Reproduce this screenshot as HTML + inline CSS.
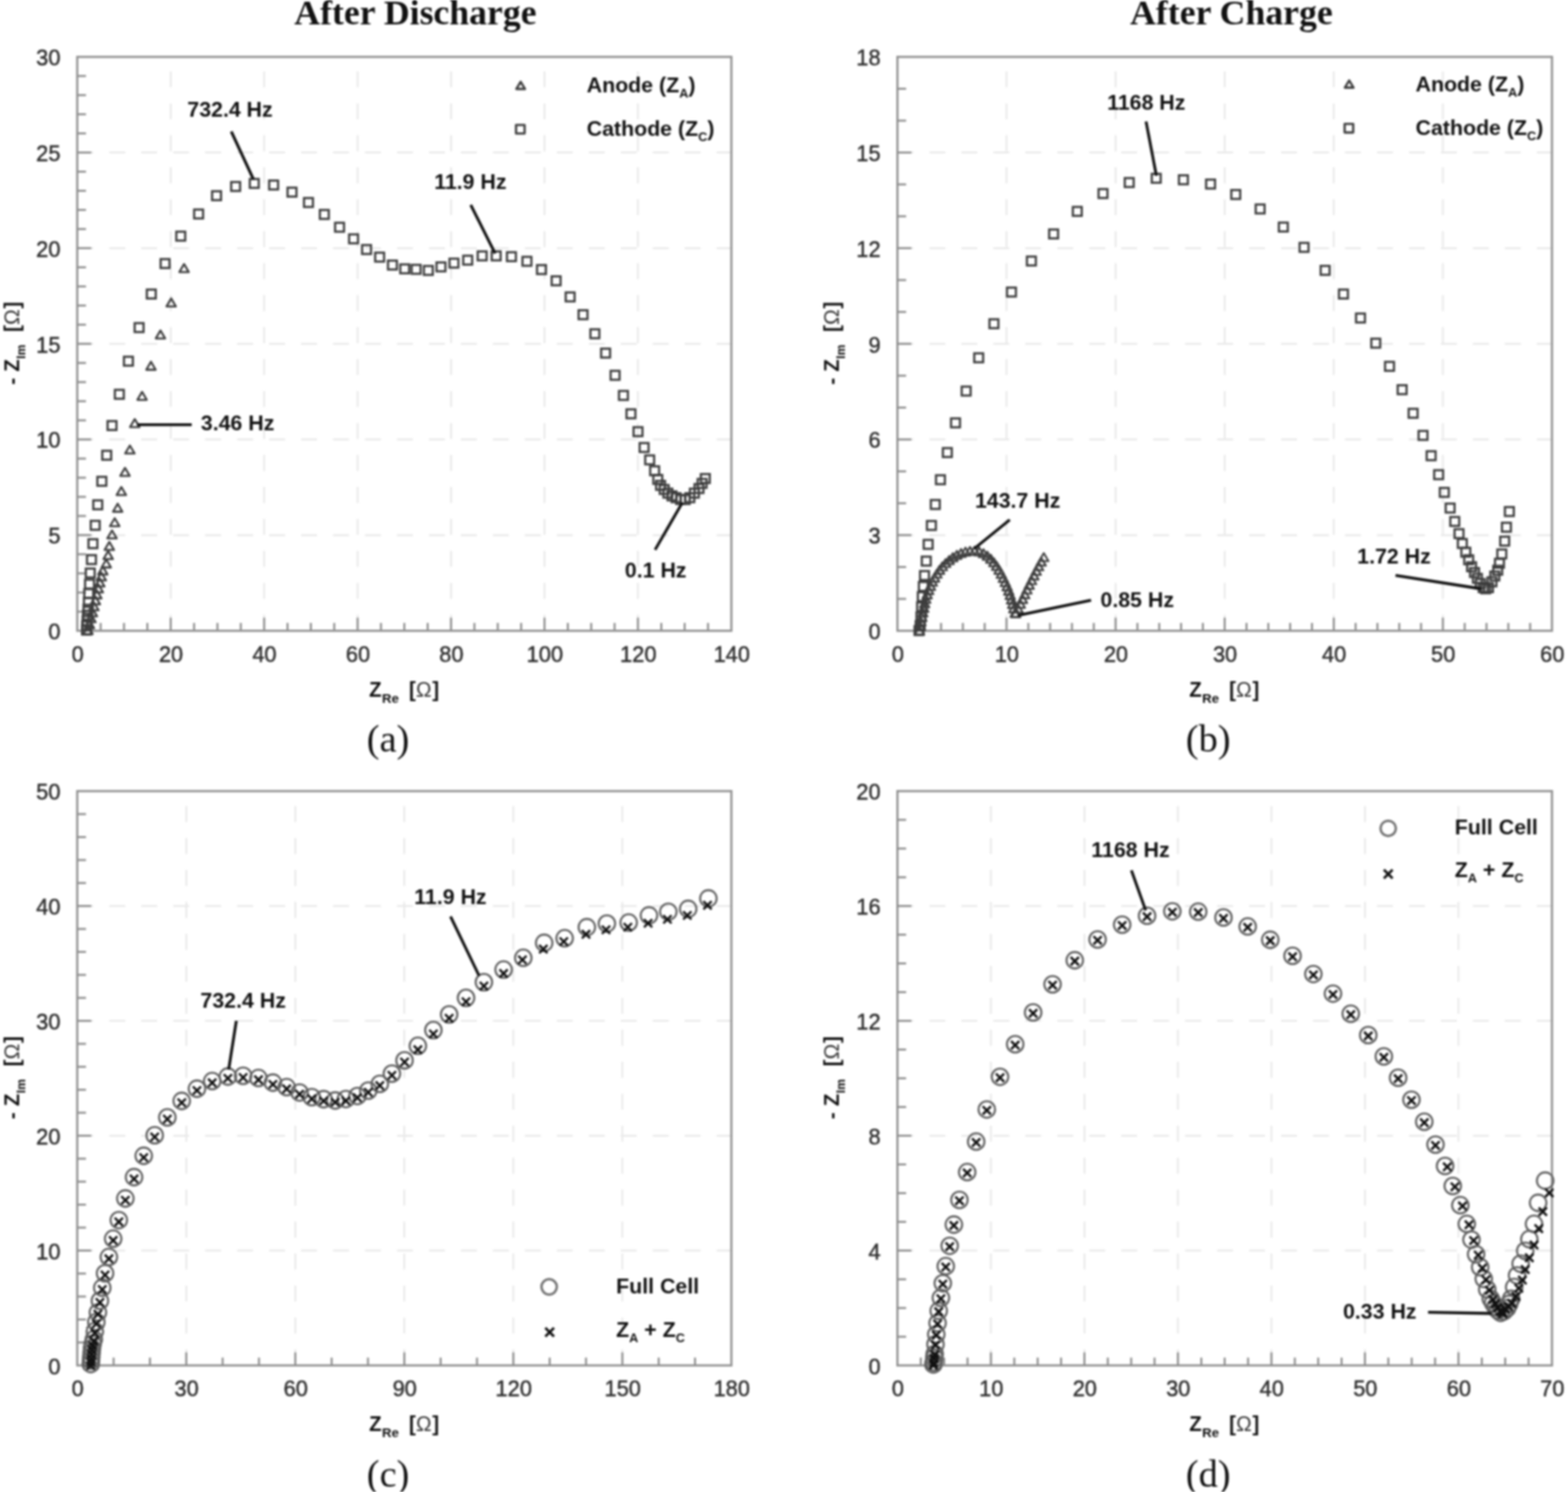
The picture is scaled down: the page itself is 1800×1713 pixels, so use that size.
<!DOCTYPE html>
<html><head><meta charset="utf-8"><title>EIS Nyquist plots</title>
<style>html,body{margin:0;padding:0;background:#fff;}body{width:1800px;height:1713px;overflow:hidden;}svg{display:block;}#w{filter:blur(0.8px);}</style>
</head><body><div id="w">
<svg width="1800" height="1713" viewBox="0 0 1800 1713">
<rect width="1800" height="1713" fill="#fff"/>
<text x="476.9" y="28.4" text-anchor="middle" font-family="'Liberation Serif', 'Times New Roman', serif" font-size="41" font-weight="bold" fill="#111">After Discharge</text>
<text x="1413.6" y="28.4" text-anchor="middle" font-family="'Liberation Serif', 'Times New Roman', serif" font-size="41" font-weight="bold" fill="#111">After Charge</text>
<g stroke="#e8e8e8" stroke-width="2" stroke-dasharray="18.35 18.35"><line x1="195.97" y1="724.2" x2="195.97" y2="65.3"/><line x1="303.24" y1="724.2" x2="303.24" y2="65.3"/><line x1="410.51" y1="724.2" x2="410.51" y2="65.3"/><line x1="517.79" y1="724.2" x2="517.79" y2="65.3"/><line x1="625.06" y1="724.2" x2="625.06" y2="65.3"/><line x1="732.33" y1="724.2" x2="732.33" y2="65.3"/><line x1="88.7" y1="614.38" x2="839.6" y2="614.38"/><line x1="88.7" y1="504.57" x2="839.6" y2="504.57"/><line x1="88.7" y1="394.75" x2="839.6" y2="394.75"/><line x1="88.7" y1="284.93" x2="839.6" y2="284.93"/><line x1="88.7" y1="175.12" x2="839.6" y2="175.12"/></g>
<g stroke="#8a8a8a" stroke-width="2.2"><line x1="115.52" y1="724.2" x2="115.52" y2="715.2"/><line x1="142.34" y1="724.2" x2="142.34" y2="715.2"/><line x1="169.15" y1="724.2" x2="169.15" y2="715.2"/><line x1="195.97" y1="724.2" x2="195.97" y2="709.2"/><line x1="222.79" y1="724.2" x2="222.79" y2="715.2"/><line x1="249.61" y1="724.2" x2="249.61" y2="715.2"/><line x1="276.43" y1="724.2" x2="276.43" y2="715.2"/><line x1="303.24" y1="724.2" x2="303.24" y2="709.2"/><line x1="330.06" y1="724.2" x2="330.06" y2="715.2"/><line x1="356.88" y1="724.2" x2="356.88" y2="715.2"/><line x1="383.7" y1="724.2" x2="383.7" y2="715.2"/><line x1="410.51" y1="724.2" x2="410.51" y2="709.2"/><line x1="437.33" y1="724.2" x2="437.33" y2="715.2"/><line x1="464.15" y1="724.2" x2="464.15" y2="715.2"/><line x1="490.97" y1="724.2" x2="490.97" y2="715.2"/><line x1="517.79" y1="724.2" x2="517.79" y2="709.2"/><line x1="544.6" y1="724.2" x2="544.6" y2="715.2"/><line x1="571.42" y1="724.2" x2="571.42" y2="715.2"/><line x1="598.24" y1="724.2" x2="598.24" y2="715.2"/><line x1="625.06" y1="724.2" x2="625.06" y2="709.2"/><line x1="651.88" y1="724.2" x2="651.88" y2="715.2"/><line x1="678.69" y1="724.2" x2="678.69" y2="715.2"/><line x1="705.51" y1="724.2" x2="705.51" y2="715.2"/><line x1="732.33" y1="724.2" x2="732.33" y2="709.2"/><line x1="759.15" y1="724.2" x2="759.15" y2="715.2"/><line x1="785.96" y1="724.2" x2="785.96" y2="715.2"/><line x1="812.78" y1="724.2" x2="812.78" y2="715.2"/><line x1="88.7" y1="702.24" x2="98.7" y2="702.24"/><line x1="88.7" y1="680.27" x2="98.7" y2="680.27"/><line x1="88.7" y1="658.31" x2="98.7" y2="658.31"/><line x1="88.7" y1="636.35" x2="98.7" y2="636.35"/><line x1="88.7" y1="614.38" x2="104.7" y2="614.38"/><line x1="88.7" y1="592.42" x2="98.7" y2="592.42"/><line x1="88.7" y1="570.46" x2="98.7" y2="570.46"/><line x1="88.7" y1="548.49" x2="98.7" y2="548.49"/><line x1="88.7" y1="526.53" x2="98.7" y2="526.53"/><line x1="88.7" y1="504.57" x2="104.7" y2="504.57"/><line x1="88.7" y1="482.6" x2="98.7" y2="482.6"/><line x1="88.7" y1="460.64" x2="98.7" y2="460.64"/><line x1="88.7" y1="438.68" x2="98.7" y2="438.68"/><line x1="88.7" y1="416.71" x2="98.7" y2="416.71"/><line x1="88.7" y1="394.75" x2="104.7" y2="394.75"/><line x1="88.7" y1="372.79" x2="98.7" y2="372.79"/><line x1="88.7" y1="350.82" x2="98.7" y2="350.82"/><line x1="88.7" y1="328.86" x2="98.7" y2="328.86"/><line x1="88.7" y1="306.9" x2="98.7" y2="306.9"/><line x1="88.7" y1="284.93" x2="104.7" y2="284.93"/><line x1="88.7" y1="262.97" x2="98.7" y2="262.97"/><line x1="88.7" y1="241.01" x2="98.7" y2="241.01"/><line x1="88.7" y1="219.04" x2="98.7" y2="219.04"/><line x1="88.7" y1="197.08" x2="98.7" y2="197.08"/><line x1="88.7" y1="175.12" x2="104.7" y2="175.12"/><line x1="88.7" y1="153.15" x2="98.7" y2="153.15"/><line x1="88.7" y1="131.19" x2="98.7" y2="131.19"/><line x1="88.7" y1="109.23" x2="98.7" y2="109.23"/><line x1="88.7" y1="87.26" x2="98.7" y2="87.26"/></g>
<rect x="88.7" y="65.3" width="750.9" height="658.9000000000001" fill="none" stroke="#8e8e8e" stroke-width="2.4"/>
<g font-family="'Liberation Sans', Arial, sans-serif" font-size="25" fill="#2e2e2e" stroke="#2e2e2e" stroke-width="0.5"><text x="89.1" y="759.8" text-anchor="middle">0</text><text x="196.37" y="759.8" text-anchor="middle">20</text><text x="303.64" y="759.8" text-anchor="middle">40</text><text x="410.91" y="759.8" text-anchor="middle">60</text><text x="518.19" y="759.8" text-anchor="middle">80</text><text x="625.46" y="759.8" text-anchor="middle">100</text><text x="732.73" y="759.8" text-anchor="middle">120</text><text x="840" y="759.8" text-anchor="middle">140</text><text x="69.4" y="734.1" text-anchor="end">0</text><text x="69.4" y="624.28" text-anchor="end">5</text><text x="69.4" y="514.47" text-anchor="end">10</text><text x="69.4" y="404.65" text-anchor="end">15</text><text x="69.4" y="294.83" text-anchor="end">20</text><text x="69.4" y="185.02" text-anchor="end">25</text><text x="69.4" y="75.2" text-anchor="end">30</text></g>
<g transform="translate(424,799.7)" font-family="'Liberation Sans', Arial, sans-serif" fill="#111"><text x="-0.3" y="0" font-size="23.5" font-weight="bold" textLength="14.3" lengthAdjust="spacingAndGlyphs">Z</text><text x="14.6" y="7" font-size="15" font-weight="bold" textLength="19.4" lengthAdjust="spacingAndGlyphs">Re</text><text x="45.6" y="0" font-size="23.5" font-weight="bold">[</text><text x="53.6" y="0" font-size="24" font-weight="normal" fill="#333">&#937;</text><text x="72.2" y="0" font-size="23.5" font-weight="bold">]</text></g>
<g transform="translate(21.8,426.55) rotate(-90)" font-family="'Liberation Sans', Arial, sans-serif" fill="#111"><text x="-15.3" y="0" font-size="24" font-weight="bold">-</text><text x="-0.3" y="0" font-size="23.5" font-weight="bold" textLength="14.3" lengthAdjust="spacingAndGlyphs">Z</text><text x="14.6" y="7" font-size="15" font-weight="bold" textLength="16.2" lengthAdjust="spacingAndGlyphs">Im</text><text x="45.6" y="0" font-size="23.5" font-weight="bold">[</text><text x="53.6" y="0" font-size="24" font-weight="normal" fill="#333">&#937;</text><text x="72.2" y="0" font-size="23.5" font-weight="bold">]</text></g>
<text x="445.5" y="863" text-anchor="middle" font-family="'Liberation Serif', 'Times New Roman', serif" font-size="44" fill="#111">(a)</text>
<g stroke="#e8e8e8" stroke-width="2" stroke-dasharray="18.35 18.35"><line x1="1155.43" y1="724.2" x2="1155.43" y2="65.3"/><line x1="1280.67" y1="724.2" x2="1280.67" y2="65.3"/><line x1="1405.9" y1="724.2" x2="1405.9" y2="65.3"/><line x1="1531.13" y1="724.2" x2="1531.13" y2="65.3"/><line x1="1656.37" y1="724.2" x2="1656.37" y2="65.3"/><line x1="1030.2" y1="614.38" x2="1781.6" y2="614.38"/><line x1="1030.2" y1="504.57" x2="1781.6" y2="504.57"/><line x1="1030.2" y1="394.75" x2="1781.6" y2="394.75"/><line x1="1030.2" y1="284.93" x2="1781.6" y2="284.93"/><line x1="1030.2" y1="175.12" x2="1781.6" y2="175.12"/></g>
<g stroke="#8a8a8a" stroke-width="2.2"><line x1="1055.25" y1="724.2" x2="1055.25" y2="715.2"/><line x1="1080.29" y1="724.2" x2="1080.29" y2="715.2"/><line x1="1105.34" y1="724.2" x2="1105.34" y2="715.2"/><line x1="1130.39" y1="724.2" x2="1130.39" y2="715.2"/><line x1="1155.43" y1="724.2" x2="1155.43" y2="709.2"/><line x1="1180.48" y1="724.2" x2="1180.48" y2="715.2"/><line x1="1205.53" y1="724.2" x2="1205.53" y2="715.2"/><line x1="1230.57" y1="724.2" x2="1230.57" y2="715.2"/><line x1="1255.62" y1="724.2" x2="1255.62" y2="715.2"/><line x1="1280.67" y1="724.2" x2="1280.67" y2="709.2"/><line x1="1305.71" y1="724.2" x2="1305.71" y2="715.2"/><line x1="1330.76" y1="724.2" x2="1330.76" y2="715.2"/><line x1="1355.81" y1="724.2" x2="1355.81" y2="715.2"/><line x1="1380.85" y1="724.2" x2="1380.85" y2="715.2"/><line x1="1405.9" y1="724.2" x2="1405.9" y2="709.2"/><line x1="1430.95" y1="724.2" x2="1430.95" y2="715.2"/><line x1="1455.99" y1="724.2" x2="1455.99" y2="715.2"/><line x1="1481.04" y1="724.2" x2="1481.04" y2="715.2"/><line x1="1506.09" y1="724.2" x2="1506.09" y2="715.2"/><line x1="1531.13" y1="724.2" x2="1531.13" y2="709.2"/><line x1="1556.18" y1="724.2" x2="1556.18" y2="715.2"/><line x1="1581.23" y1="724.2" x2="1581.23" y2="715.2"/><line x1="1606.27" y1="724.2" x2="1606.27" y2="715.2"/><line x1="1631.32" y1="724.2" x2="1631.32" y2="715.2"/><line x1="1656.37" y1="724.2" x2="1656.37" y2="709.2"/><line x1="1681.41" y1="724.2" x2="1681.41" y2="715.2"/><line x1="1706.46" y1="724.2" x2="1706.46" y2="715.2"/><line x1="1731.51" y1="724.2" x2="1731.51" y2="715.2"/><line x1="1756.55" y1="724.2" x2="1756.55" y2="715.2"/><line x1="1030.2" y1="687.59" x2="1040.2" y2="687.59"/><line x1="1030.2" y1="650.99" x2="1040.2" y2="650.99"/><line x1="1030.2" y1="614.38" x2="1046.2" y2="614.38"/><line x1="1030.2" y1="577.78" x2="1040.2" y2="577.78"/><line x1="1030.2" y1="541.17" x2="1040.2" y2="541.17"/><line x1="1030.2" y1="504.57" x2="1046.2" y2="504.57"/><line x1="1030.2" y1="467.96" x2="1040.2" y2="467.96"/><line x1="1030.2" y1="431.36" x2="1040.2" y2="431.36"/><line x1="1030.2" y1="394.75" x2="1046.2" y2="394.75"/><line x1="1030.2" y1="358.14" x2="1040.2" y2="358.14"/><line x1="1030.2" y1="321.54" x2="1040.2" y2="321.54"/><line x1="1030.2" y1="284.93" x2="1046.2" y2="284.93"/><line x1="1030.2" y1="248.33" x2="1040.2" y2="248.33"/><line x1="1030.2" y1="211.72" x2="1040.2" y2="211.72"/><line x1="1030.2" y1="175.12" x2="1046.2" y2="175.12"/><line x1="1030.2" y1="138.51" x2="1040.2" y2="138.51"/><line x1="1030.2" y1="101.91" x2="1040.2" y2="101.91"/></g>
<rect x="1030.2" y="65.3" width="751.3999999999999" height="658.9000000000001" fill="none" stroke="#8e8e8e" stroke-width="2.4"/>
<g font-family="'Liberation Sans', Arial, sans-serif" font-size="25" fill="#2e2e2e" stroke="#2e2e2e" stroke-width="0.5"><text x="1030.6" y="759.8" text-anchor="middle">0</text><text x="1155.83" y="759.8" text-anchor="middle">10</text><text x="1281.07" y="759.8" text-anchor="middle">20</text><text x="1406.3" y="759.8" text-anchor="middle">30</text><text x="1531.53" y="759.8" text-anchor="middle">40</text><text x="1656.77" y="759.8" text-anchor="middle">50</text><text x="1782" y="759.8" text-anchor="middle">60</text><text x="1010.9" y="734.1" text-anchor="end">0</text><text x="1010.9" y="624.28" text-anchor="end">3</text><text x="1010.9" y="514.47" text-anchor="end">6</text><text x="1010.9" y="404.65" text-anchor="end">9</text><text x="1010.9" y="294.83" text-anchor="end">12</text><text x="1010.9" y="185.02" text-anchor="end">15</text><text x="1010.9" y="75.2" text-anchor="end">18</text></g>
<g transform="translate(1365.5,799.7)" font-family="'Liberation Sans', Arial, sans-serif" fill="#111"><text x="-0.3" y="0" font-size="23.5" font-weight="bold" textLength="14.3" lengthAdjust="spacingAndGlyphs">Z</text><text x="14.6" y="7" font-size="15" font-weight="bold" textLength="19.4" lengthAdjust="spacingAndGlyphs">Re</text><text x="45.6" y="0" font-size="23.5" font-weight="bold">[</text><text x="53.6" y="0" font-size="24" font-weight="normal" fill="#333">&#937;</text><text x="72.2" y="0" font-size="23.5" font-weight="bold">]</text></g>
<g transform="translate(963.3,426.55) rotate(-90)" font-family="'Liberation Sans', Arial, sans-serif" fill="#111"><text x="-15.3" y="0" font-size="24" font-weight="bold">-</text><text x="-0.3" y="0" font-size="23.5" font-weight="bold" textLength="14.3" lengthAdjust="spacingAndGlyphs">Z</text><text x="14.6" y="7" font-size="15" font-weight="bold" textLength="16.2" lengthAdjust="spacingAndGlyphs">Im</text><text x="45.6" y="0" font-size="23.5" font-weight="bold">[</text><text x="53.6" y="0" font-size="24" font-weight="normal" fill="#333">&#937;</text><text x="72.2" y="0" font-size="23.5" font-weight="bold">]</text></g>
<text x="1387" y="863" text-anchor="middle" font-family="'Liberation Serif', 'Times New Roman', serif" font-size="44" fill="#111">(b)</text>
<g stroke="#e8e8e8" stroke-width="2" stroke-dasharray="18.35 18.35"><line x1="213.85" y1="1567.7" x2="213.85" y2="908.3"/><line x1="339" y1="1567.7" x2="339" y2="908.3"/><line x1="464.15" y1="1567.7" x2="464.15" y2="908.3"/><line x1="589.3" y1="1567.7" x2="589.3" y2="908.3"/><line x1="714.45" y1="1567.7" x2="714.45" y2="908.3"/><line x1="88.7" y1="1435.82" x2="839.6" y2="1435.82"/><line x1="88.7" y1="1303.94" x2="839.6" y2="1303.94"/><line x1="88.7" y1="1172.06" x2="839.6" y2="1172.06"/><line x1="88.7" y1="1040.18" x2="839.6" y2="1040.18"/></g>
<g stroke="#8a8a8a" stroke-width="2.2"><line x1="130.42" y1="1567.7" x2="130.42" y2="1558.7"/><line x1="172.13" y1="1567.7" x2="172.13" y2="1558.7"/><line x1="213.85" y1="1567.7" x2="213.85" y2="1552.7"/><line x1="255.57" y1="1567.7" x2="255.57" y2="1558.7"/><line x1="297.28" y1="1567.7" x2="297.28" y2="1558.7"/><line x1="339" y1="1567.7" x2="339" y2="1552.7"/><line x1="380.72" y1="1567.7" x2="380.72" y2="1558.7"/><line x1="422.43" y1="1567.7" x2="422.43" y2="1558.7"/><line x1="464.15" y1="1567.7" x2="464.15" y2="1552.7"/><line x1="505.87" y1="1567.7" x2="505.87" y2="1558.7"/><line x1="547.58" y1="1567.7" x2="547.58" y2="1558.7"/><line x1="589.3" y1="1567.7" x2="589.3" y2="1552.7"/><line x1="631.02" y1="1567.7" x2="631.02" y2="1558.7"/><line x1="672.73" y1="1567.7" x2="672.73" y2="1558.7"/><line x1="714.45" y1="1567.7" x2="714.45" y2="1552.7"/><line x1="756.17" y1="1567.7" x2="756.17" y2="1558.7"/><line x1="797.88" y1="1567.7" x2="797.88" y2="1558.7"/><line x1="88.7" y1="1541.32" x2="98.7" y2="1541.32"/><line x1="88.7" y1="1514.95" x2="98.7" y2="1514.95"/><line x1="88.7" y1="1488.57" x2="98.7" y2="1488.57"/><line x1="88.7" y1="1462.2" x2="98.7" y2="1462.2"/><line x1="88.7" y1="1435.82" x2="104.7" y2="1435.82"/><line x1="88.7" y1="1409.44" x2="98.7" y2="1409.44"/><line x1="88.7" y1="1383.07" x2="98.7" y2="1383.07"/><line x1="88.7" y1="1356.69" x2="98.7" y2="1356.69"/><line x1="88.7" y1="1330.32" x2="98.7" y2="1330.32"/><line x1="88.7" y1="1303.94" x2="104.7" y2="1303.94"/><line x1="88.7" y1="1277.56" x2="98.7" y2="1277.56"/><line x1="88.7" y1="1251.19" x2="98.7" y2="1251.19"/><line x1="88.7" y1="1224.81" x2="98.7" y2="1224.81"/><line x1="88.7" y1="1198.44" x2="98.7" y2="1198.44"/><line x1="88.7" y1="1172.06" x2="104.7" y2="1172.06"/><line x1="88.7" y1="1145.68" x2="98.7" y2="1145.68"/><line x1="88.7" y1="1119.31" x2="98.7" y2="1119.31"/><line x1="88.7" y1="1092.93" x2="98.7" y2="1092.93"/><line x1="88.7" y1="1066.56" x2="98.7" y2="1066.56"/><line x1="88.7" y1="1040.18" x2="104.7" y2="1040.18"/><line x1="88.7" y1="1013.8" x2="98.7" y2="1013.8"/><line x1="88.7" y1="987.43" x2="98.7" y2="987.43"/><line x1="88.7" y1="961.05" x2="98.7" y2="961.05"/><line x1="88.7" y1="934.68" x2="98.7" y2="934.68"/></g>
<rect x="88.7" y="908.3" width="750.9" height="659.4000000000001" fill="none" stroke="#8e8e8e" stroke-width="2.4"/>
<g font-family="'Liberation Sans', Arial, sans-serif" font-size="25" fill="#2e2e2e" stroke="#2e2e2e" stroke-width="0.5"><text x="89.1" y="1603.3" text-anchor="middle">0</text><text x="214.25" y="1603.3" text-anchor="middle">30</text><text x="339.4" y="1603.3" text-anchor="middle">60</text><text x="464.55" y="1603.3" text-anchor="middle">90</text><text x="589.7" y="1603.3" text-anchor="middle">120</text><text x="714.85" y="1603.3" text-anchor="middle">150</text><text x="840" y="1603.3" text-anchor="middle">180</text><text x="69.4" y="1577.6" text-anchor="end">0</text><text x="69.4" y="1445.72" text-anchor="end">10</text><text x="69.4" y="1313.84" text-anchor="end">20</text><text x="69.4" y="1181.96" text-anchor="end">30</text><text x="69.4" y="1050.08" text-anchor="end">40</text><text x="69.4" y="918.2" text-anchor="end">50</text></g>
<g transform="translate(424,1643.2)" font-family="'Liberation Sans', Arial, sans-serif" fill="#111"><text x="-0.3" y="0" font-size="23.5" font-weight="bold" textLength="14.3" lengthAdjust="spacingAndGlyphs">Z</text><text x="14.6" y="7" font-size="15" font-weight="bold" textLength="19.4" lengthAdjust="spacingAndGlyphs">Re</text><text x="45.6" y="0" font-size="23.5" font-weight="bold">[</text><text x="53.6" y="0" font-size="24" font-weight="normal" fill="#333">&#937;</text><text x="72.2" y="0" font-size="23.5" font-weight="bold">]</text></g>
<g transform="translate(21.8,1269.8) rotate(-90)" font-family="'Liberation Sans', Arial, sans-serif" fill="#111"><text x="-15.3" y="0" font-size="24" font-weight="bold">-</text><text x="-0.3" y="0" font-size="23.5" font-weight="bold" textLength="14.3" lengthAdjust="spacingAndGlyphs">Z</text><text x="14.6" y="7" font-size="15" font-weight="bold" textLength="16.2" lengthAdjust="spacingAndGlyphs">Im</text><text x="45.6" y="0" font-size="23.5" font-weight="bold">[</text><text x="53.6" y="0" font-size="24" font-weight="normal" fill="#333">&#937;</text><text x="72.2" y="0" font-size="23.5" font-weight="bold">]</text></g>
<text x="445.5" y="1706.5" text-anchor="middle" font-family="'Liberation Serif', 'Times New Roman', serif" font-size="44" fill="#111">(c)</text>
<g stroke="#e8e8e8" stroke-width="2" stroke-dasharray="18.35 18.35"><line x1="1137.54" y1="1567.7" x2="1137.54" y2="908.3"/><line x1="1244.89" y1="1567.7" x2="1244.89" y2="908.3"/><line x1="1352.23" y1="1567.7" x2="1352.23" y2="908.3"/><line x1="1459.57" y1="1567.7" x2="1459.57" y2="908.3"/><line x1="1566.91" y1="1567.7" x2="1566.91" y2="908.3"/><line x1="1674.26" y1="1567.7" x2="1674.26" y2="908.3"/><line x1="1030.2" y1="1435.82" x2="1781.6" y2="1435.82"/><line x1="1030.2" y1="1303.94" x2="1781.6" y2="1303.94"/><line x1="1030.2" y1="1172.06" x2="1781.6" y2="1172.06"/><line x1="1030.2" y1="1040.18" x2="1781.6" y2="1040.18"/></g>
<g stroke="#8a8a8a" stroke-width="2.2"><line x1="1057.04" y1="1567.7" x2="1057.04" y2="1558.7"/><line x1="1083.87" y1="1567.7" x2="1083.87" y2="1558.7"/><line x1="1110.71" y1="1567.7" x2="1110.71" y2="1558.7"/><line x1="1137.54" y1="1567.7" x2="1137.54" y2="1552.7"/><line x1="1164.38" y1="1567.7" x2="1164.38" y2="1558.7"/><line x1="1191.21" y1="1567.7" x2="1191.21" y2="1558.7"/><line x1="1218.05" y1="1567.7" x2="1218.05" y2="1558.7"/><line x1="1244.89" y1="1567.7" x2="1244.89" y2="1552.7"/><line x1="1271.72" y1="1567.7" x2="1271.72" y2="1558.7"/><line x1="1298.56" y1="1567.7" x2="1298.56" y2="1558.7"/><line x1="1325.39" y1="1567.7" x2="1325.39" y2="1558.7"/><line x1="1352.23" y1="1567.7" x2="1352.23" y2="1552.7"/><line x1="1379.06" y1="1567.7" x2="1379.06" y2="1558.7"/><line x1="1405.9" y1="1567.7" x2="1405.9" y2="1558.7"/><line x1="1432.74" y1="1567.7" x2="1432.74" y2="1558.7"/><line x1="1459.57" y1="1567.7" x2="1459.57" y2="1552.7"/><line x1="1486.41" y1="1567.7" x2="1486.41" y2="1558.7"/><line x1="1513.24" y1="1567.7" x2="1513.24" y2="1558.7"/><line x1="1540.08" y1="1567.7" x2="1540.08" y2="1558.7"/><line x1="1566.91" y1="1567.7" x2="1566.91" y2="1552.7"/><line x1="1593.75" y1="1567.7" x2="1593.75" y2="1558.7"/><line x1="1620.59" y1="1567.7" x2="1620.59" y2="1558.7"/><line x1="1647.42" y1="1567.7" x2="1647.42" y2="1558.7"/><line x1="1674.26" y1="1567.7" x2="1674.26" y2="1552.7"/><line x1="1701.09" y1="1567.7" x2="1701.09" y2="1558.7"/><line x1="1727.93" y1="1567.7" x2="1727.93" y2="1558.7"/><line x1="1754.76" y1="1567.7" x2="1754.76" y2="1558.7"/><line x1="1030.2" y1="1534.73" x2="1040.2" y2="1534.73"/><line x1="1030.2" y1="1501.76" x2="1040.2" y2="1501.76"/><line x1="1030.2" y1="1468.79" x2="1040.2" y2="1468.79"/><line x1="1030.2" y1="1435.82" x2="1046.2" y2="1435.82"/><line x1="1030.2" y1="1402.85" x2="1040.2" y2="1402.85"/><line x1="1030.2" y1="1369.88" x2="1040.2" y2="1369.88"/><line x1="1030.2" y1="1336.91" x2="1040.2" y2="1336.91"/><line x1="1030.2" y1="1303.94" x2="1046.2" y2="1303.94"/><line x1="1030.2" y1="1270.97" x2="1040.2" y2="1270.97"/><line x1="1030.2" y1="1238" x2="1040.2" y2="1238"/><line x1="1030.2" y1="1205.03" x2="1040.2" y2="1205.03"/><line x1="1030.2" y1="1172.06" x2="1046.2" y2="1172.06"/><line x1="1030.2" y1="1139.09" x2="1040.2" y2="1139.09"/><line x1="1030.2" y1="1106.12" x2="1040.2" y2="1106.12"/><line x1="1030.2" y1="1073.15" x2="1040.2" y2="1073.15"/><line x1="1030.2" y1="1040.18" x2="1046.2" y2="1040.18"/><line x1="1030.2" y1="1007.21" x2="1040.2" y2="1007.21"/><line x1="1030.2" y1="974.24" x2="1040.2" y2="974.24"/><line x1="1030.2" y1="941.27" x2="1040.2" y2="941.27"/></g>
<rect x="1030.2" y="908.3" width="751.3999999999999" height="659.4000000000001" fill="none" stroke="#8e8e8e" stroke-width="2.4"/>
<g font-family="'Liberation Sans', Arial, sans-serif" font-size="25" fill="#2e2e2e" stroke="#2e2e2e" stroke-width="0.5"><text x="1030.6" y="1603.3" text-anchor="middle">0</text><text x="1137.94" y="1603.3" text-anchor="middle">10</text><text x="1245.29" y="1603.3" text-anchor="middle">20</text><text x="1352.63" y="1603.3" text-anchor="middle">30</text><text x="1459.97" y="1603.3" text-anchor="middle">40</text><text x="1567.31" y="1603.3" text-anchor="middle">50</text><text x="1674.66" y="1603.3" text-anchor="middle">60</text><text x="1782" y="1603.3" text-anchor="middle">70</text><text x="1010.9" y="1577.6" text-anchor="end">0</text><text x="1010.9" y="1445.72" text-anchor="end">4</text><text x="1010.9" y="1313.84" text-anchor="end">8</text><text x="1010.9" y="1181.96" text-anchor="end">12</text><text x="1010.9" y="1050.08" text-anchor="end">16</text><text x="1010.9" y="918.2" text-anchor="end">20</text></g>
<g transform="translate(1365.5,1643.2)" font-family="'Liberation Sans', Arial, sans-serif" fill="#111"><text x="-0.3" y="0" font-size="23.5" font-weight="bold" textLength="14.3" lengthAdjust="spacingAndGlyphs">Z</text><text x="14.6" y="7" font-size="15" font-weight="bold" textLength="19.4" lengthAdjust="spacingAndGlyphs">Re</text><text x="45.6" y="0" font-size="23.5" font-weight="bold">[</text><text x="53.6" y="0" font-size="24" font-weight="normal" fill="#333">&#937;</text><text x="72.2" y="0" font-size="23.5" font-weight="bold">]</text></g>
<g transform="translate(963.3,1269.8) rotate(-90)" font-family="'Liberation Sans', Arial, sans-serif" fill="#111"><text x="-15.3" y="0" font-size="24" font-weight="bold">-</text><text x="-0.3" y="0" font-size="23.5" font-weight="bold" textLength="14.3" lengthAdjust="spacingAndGlyphs">Z</text><text x="14.6" y="7" font-size="15" font-weight="bold" textLength="16.2" lengthAdjust="spacingAndGlyphs">Im</text><text x="45.6" y="0" font-size="23.5" font-weight="bold">[</text><text x="53.6" y="0" font-size="24" font-weight="normal" fill="#333">&#937;</text><text x="72.2" y="0" font-size="23.5" font-weight="bold">]</text></g>
<text x="1387" y="1706.5" text-anchor="middle" font-family="'Liberation Serif', 'Times New Roman', serif" font-size="44" fill="#111">(d)</text>
<g fill="none" stroke="#3d3d3d" stroke-width="2.5"><rect x="94.2" y="718.3" width="10.2" height="10.2"/><rect x="94.5" y="713.3" width="10.2" height="10.2"/><rect x="94.9" y="707.5" width="10.2" height="10.2"/><rect x="95.4" y="701.2" width="10.2" height="10.2"/><rect x="95.9" y="694.4" width="10.2" height="10.2"/><rect x="96.4" y="686.5" width="10.2" height="10.2"/><rect x="96.8" y="676.4" width="10.2" height="10.2"/><rect x="97.7" y="665.5" width="10.2" height="10.2"/><rect x="98.5" y="652.8" width="10.2" height="10.2"/><rect x="99.9" y="637.4" width="10.2" height="10.2"/><rect x="101.6" y="619.1" width="10.2" height="10.2"/><rect x="104.2" y="598" width="10.2" height="10.2"/><rect x="107.1" y="574.5" width="10.2" height="10.2"/><rect x="111.8" y="547.5" width="10.2" height="10.2"/><rect x="117.4" y="517.6" width="10.2" height="10.2"/><rect x="123.5" y="483.5" width="10.2" height="10.2"/><rect x="131.9" y="447.6" width="10.2" height="10.2"/><rect x="142.3" y="409.6" width="10.2" height="10.2"/><rect x="154.6" y="371" width="10.2" height="10.2"/><rect x="168.6" y="332.5" width="10.2" height="10.2"/><rect x="184.4" y="297.5" width="10.2" height="10.2"/><rect x="202.4" y="266" width="10.2" height="10.2"/><rect x="222.9" y="240.6" width="10.2" height="10.2"/><rect x="243.5" y="219.6" width="10.2" height="10.2"/><rect x="265.4" y="209" width="10.2" height="10.2"/><rect x="286.8" y="205.5" width="10.2" height="10.2"/><rect x="309" y="207.3" width="10.2" height="10.2"/><rect x="330.1" y="215.5" width="10.2" height="10.2"/><rect x="349" y="227.4" width="10.2" height="10.2"/><rect x="367.2" y="241.1" width="10.2" height="10.2"/><rect x="384.7" y="255.8" width="10.2" height="10.2"/><rect x="400.8" y="269.1" width="10.2" height="10.2"/><rect x="415.7" y="281.4" width="10.2" height="10.2"/><rect x="430.7" y="290.1" width="10.2" height="10.2"/><rect x="445.4" y="299.2" width="10.2" height="10.2"/><rect x="459.5" y="303.6" width="10.2" height="10.2"/><rect x="472.6" y="304.1" width="10.2" height="10.2"/><rect x="486.6" y="305.4" width="10.2" height="10.2"/><rect x="501.1" y="301.3" width="10.2" height="10.2"/><rect x="516" y="297" width="10.2" height="10.2"/><rect x="531.8" y="293.6" width="10.2" height="10.2"/><rect x="548.4" y="288.7" width="10.2" height="10.2"/><rect x="564.5" y="288.7" width="10.2" height="10.2"/><rect x="582" y="289.6" width="10.2" height="10.2"/><rect x="599.8" y="294.9" width="10.2" height="10.2"/><rect x="616.5" y="304.4" width="10.2" height="10.2"/><rect x="633.3" y="317.3" width="10.2" height="10.2"/><rect x="649.4" y="335.8" width="10.2" height="10.2"/><rect x="664.2" y="356.2" width="10.2" height="10.2"/><rect x="677.8" y="378.1" width="10.2" height="10.2"/><rect x="690.1" y="400.3" width="10.2" height="10.2"/><rect x="701" y="425.8" width="10.2" height="10.2"/><rect x="710.6" y="448.9" width="10.2" height="10.2"/><rect x="719.2" y="470" width="10.2" height="10.2"/><rect x="727.3" y="490.5" width="10.2" height="10.2"/><rect x="734.3" y="508.7" width="10.2" height="10.2"/><rect x="740.7" y="522.9" width="10.2" height="10.2"/><rect x="746.4" y="535.4" width="10.2" height="10.2"/><rect x="750" y="545.3" width="10.2" height="10.2"/><rect x="753.2" y="552.1" width="10.2" height="10.2"/><rect x="757.4" y="556.9" width="10.2" height="10.2"/><rect x="761.6" y="561.1" width="10.2" height="10.2"/><rect x="766.3" y="564.2" width="10.2" height="10.2"/><rect x="771" y="566.3" width="10.2" height="10.2"/><rect x="776.3" y="568.4" width="10.2" height="10.2"/><rect x="781.5" y="568.4" width="10.2" height="10.2"/><rect x="786.8" y="566.3" width="10.2" height="10.2"/><rect x="792" y="561.1" width="10.2" height="10.2"/><rect x="797.3" y="555.8" width="10.2" height="10.2"/><rect x="800.9" y="549.9" width="10.2" height="10.2"/><rect x="804.6" y="544.3" width="10.2" height="10.2"/></g>
<g fill="none" stroke="#3d3d3d" stroke-width="2.3" stroke-linejoin="round"><path d="M102.7 712.05L108.1 721.25L97.3 721.25Z"/><path d="M104.4 705.2L109.8 714.4L99 714.4Z"/><path d="M106.1 698.35L111.5 707.55L100.7 707.55Z"/><path d="M107.8 691.5L113.2 700.7L102.4 700.7Z"/><path d="M109.5 684.65L114.9 693.85L104.1 693.85Z"/><path d="M111.2 677.8L116.6 687L105.8 687Z"/><path d="M112.9 670.95L118.3 680.15L107.5 680.15Z"/><path d="M114.6 664.1L120 673.3L109.2 673.3Z"/><path d="M116.3 657.25L121.7 666.45L110.9 666.45Z"/><path d="M101 718.9L106.4 728.1L95.6 728.1Z"/><path d="M118 650.4L123.4 659.6L112.6 659.6Z"/><path d="M122 642.3L127.4 651.5L116.6 651.5Z"/><path d="M124.2 632.7L129.6 641.9L118.8 641.9Z"/><path d="M125.5 622.2L130.9 631.4L120.1 631.4Z"/><path d="M128.6 609L134 618.2L123.2 618.2Z"/><path d="M131.7 595L137.1 604.2L126.3 604.2Z"/><path d="M135.1 578.3L140.5 587.5L129.7 587.5Z"/><path d="M139.3 559.2L144.7 568.4L133.9 568.4Z"/><path d="M143.5 537.2L148.9 546.4L138.1 546.4Z"/><path d="M149.1 511.5L154.5 520.7L143.7 520.7Z"/><path d="M154.7 481.2L160.1 490.4L149.3 490.4Z"/><path d="M163.1 449.9L168.5 459.1L157.7 459.1Z"/><path d="M173.3 415.3L178.7 424.5L167.9 424.5Z"/><path d="M184.2 379.4L189.6 388.6L178.8 388.6Z"/><path d="M196.5 342.6L201.9 351.8L191.1 351.8Z"/><path d="M211.3 303.2L216.7 312.4L205.9 312.4Z"/></g>
<g fill="none" stroke="#3d3d3d" stroke-width="2.6" stroke-linejoin="round"><path d="M597.7 93.9L602.7 102.1L592.7 102.1Z"/><rect x="592.4" y="143.5" width="9.8" height="9.8"/></g>
<text x="673.5" y="106" font-family="'Liberation Sans', Arial, sans-serif" font-size="24.5" font-weight="bold" fill="#111">Anode (Z<tspan font-size="14.5" dy="6">A</tspan><tspan dy="-6">)</tspan></text>
<text x="673.5" y="156.2" font-family="'Liberation Sans', Arial, sans-serif" font-size="24.5" font-weight="bold" fill="#111">Cathode (Z<tspan font-size="14.5" dy="6">C</tspan><tspan dy="-6">)</tspan></text>
<line x1="265.5" y1="151" x2="291" y2="206" stroke="#111" stroke-width="3.3"/>
<text x="215" y="133.8" text-anchor="start" font-family="'Liberation Sans', Arial, sans-serif" font-size="24.5" font-weight="bold" fill="#111">732.4 Hz</text>
<line x1="540.4" y1="235.2" x2="568.4" y2="291" stroke="#111" stroke-width="3.3"/>
<text x="498.4" y="217" text-anchor="start" font-family="'Liberation Sans', Arial, sans-serif" font-size="24.5" font-weight="bold" fill="#111">11.9 Hz</text>
<line x1="157.5" y1="487.6" x2="220.1" y2="487.6" stroke="#111" stroke-width="3.3"/>
<text x="230.5" y="493.5" text-anchor="start" font-family="'Liberation Sans', Arial, sans-serif" font-size="24.5" font-weight="bold" fill="#111">3.46 Hz</text>
<line x1="752" y1="631.3" x2="783.5" y2="576.7" stroke="#111" stroke-width="3.3"/>
<text x="717.3" y="662.8" text-anchor="start" font-family="'Liberation Sans', Arial, sans-serif" font-size="24.5" font-weight="bold" fill="#111">0.1 Hz</text>
<g fill="none" stroke="#3d3d3d" stroke-width="2.5"><rect x="1049.9" y="718.9" width="10.2" height="10.2"/><rect x="1051.2" y="713.2" width="10.2" height="10.2"/><rect x="1052.1" y="703.2" width="10.2" height="10.2"/><rect x="1052.9" y="691.6" width="10.2" height="10.2"/><rect x="1053.7" y="679.9" width="10.2" height="10.2"/><rect x="1054.9" y="668.2" width="10.2" height="10.2"/><rect x="1056.2" y="655.7" width="10.2" height="10.2"/><rect x="1058.2" y="639.1" width="10.2" height="10.2"/><rect x="1060.4" y="619.9" width="10.2" height="10.2"/><rect x="1064.1" y="598.2" width="10.2" height="10.2"/><rect x="1068.6" y="574.1" width="10.2" height="10.2"/><rect x="1074.5" y="545.7" width="10.2" height="10.2"/><rect x="1082.4" y="514.5" width="10.2" height="10.2"/><rect x="1091.8" y="480.4" width="10.2" height="10.2"/><rect x="1104" y="443.9" width="10.2" height="10.2"/><rect x="1118.4" y="405.7" width="10.2" height="10.2"/><rect x="1135.9" y="366.6" width="10.2" height="10.2"/><rect x="1156" y="330.2" width="10.2" height="10.2"/><rect x="1178.9" y="294.6" width="10.2" height="10.2"/><rect x="1204.4" y="263.5" width="10.2" height="10.2"/><rect x="1231.6" y="237.6" width="10.2" height="10.2"/><rect x="1261.1" y="217.1" width="10.2" height="10.2"/><rect x="1291.2" y="204.5" width="10.2" height="10.2"/><rect x="1322.2" y="199.6" width="10.2" height="10.2"/><rect x="1353.4" y="201.3" width="10.2" height="10.2"/><rect x="1384.6" y="206.2" width="10.2" height="10.2"/><rect x="1413.5" y="218.2" width="10.2" height="10.2"/><rect x="1441.5" y="234.8" width="10.2" height="10.2"/><rect x="1468.1" y="255.6" width="10.2" height="10.2"/><rect x="1491.9" y="278.9" width="10.2" height="10.2"/><rect x="1516.1" y="305.3" width="10.2" height="10.2"/><rect x="1537.1" y="332.5" width="10.2" height="10.2"/><rect x="1556.7" y="360" width="10.2" height="10.2"/><rect x="1574.2" y="388.9" width="10.2" height="10.2"/><rect x="1590" y="415.5" width="10.2" height="10.2"/><rect x="1604.5" y="442.3" width="10.2" height="10.2"/><rect x="1617.1" y="469.4" width="10.2" height="10.2"/><rect x="1628.5" y="494.8" width="10.2" height="10.2"/><rect x="1637.8" y="518.1" width="10.2" height="10.2"/><rect x="1646.4" y="539.9" width="10.2" height="10.2"/><rect x="1652.9" y="560.2" width="10.2" height="10.2"/><rect x="1659.6" y="578.2" width="10.2" height="10.2"/><rect x="1664.9" y="593.6" width="10.2" height="10.2"/><rect x="1669.8" y="607.6" width="10.2" height="10.2"/><rect x="1673.6" y="618.9" width="10.2" height="10.2"/><rect x="1677.6" y="628.9" width="10.2" height="10.2"/><rect x="1680.9" y="637.6" width="10.2" height="10.2"/><rect x="1684.2" y="645.6" width="10.2" height="10.2"/><rect x="1687.6" y="652.2" width="10.2" height="10.2"/><rect x="1690.9" y="658.9" width="10.2" height="10.2"/><rect x="1694.2" y="664.9" width="10.2" height="10.2"/><rect x="1697.6" y="669.6" width="10.2" height="10.2"/><rect x="1700.4" y="670.9" width="10.2" height="10.2"/><rect x="1703.6" y="669.6" width="10.2" height="10.2"/><rect x="1707.6" y="662.9" width="10.2" height="10.2"/><rect x="1710.9" y="656.2" width="10.2" height="10.2"/><rect x="1714.2" y="649.6" width="10.2" height="10.2"/><rect x="1716.2" y="641.6" width="10.2" height="10.2"/><rect x="1718.9" y="630.9" width="10.2" height="10.2"/><rect x="1722.2" y="616.2" width="10.2" height="10.2"/><rect x="1724.2" y="600.2" width="10.2" height="10.2"/><rect x="1727.6" y="582.2" width="10.2" height="10.2"/></g>
<g fill="none" stroke="#3d3d3d" stroke-width="2.2" stroke-linejoin="round"><path d="M1055.5 719.4L1060.9 728.6L1050.1 728.6Z"/><path d="M1056.34 714.17L1061.74 723.37L1050.94 723.37Z"/><path d="M1057.22 708.94L1062.62 718.14L1051.82 718.14Z"/><path d="M1058.22 703.74L1063.62 712.94L1052.82 712.94Z"/><path d="M1059.32 698.55L1064.72 707.75L1053.92 707.75Z"/><path d="M1060.42 693.37L1065.82 702.57L1055.02 702.57Z"/><path d="M1061.48 688.17L1066.88 697.37L1056.08 697.37Z"/><path d="M1062.74 683.03L1068.14 692.23L1057.34 692.23Z"/><path d="M1064.33 677.97L1069.73 687.17L1058.93 687.17Z"/><path d="M1066.15 673L1071.55 682.2L1060.75 682.2Z"/><path d="M1068.13 668.08L1073.53 677.28L1062.73 677.28Z"/><path d="M1070.32 663.25L1075.72 672.45L1064.92 672.45Z"/><path d="M1072.82 658.58L1078.22 667.78L1067.42 667.78Z"/><path d="M1075.58 654.05L1080.98 663.25L1070.18 663.25Z"/><path d="M1078.56 649.68L1083.96 658.88L1073.16 658.88Z"/><path d="M1081.87 645.54L1087.27 654.74L1076.47 654.74Z"/><path d="M1085.62 641.79L1091.02 650.99L1080.22 650.99Z"/><path d="M1089.66 638.37L1095.06 647.57L1084.26 647.57Z"/><path d="M1093.89 635.18L1099.29 644.38L1088.49 644.38Z"/><path d="M1098.44 632.46L1103.84 641.66L1093.04 641.66Z"/><path d="M1103.28 630.32L1108.68 639.52L1097.88 639.52Z"/><path d="M1108.34 628.75L1113.74 637.95L1102.94 637.95Z"/><path d="M1113.56 627.83L1118.96 637.03L1108.16 637.03Z"/><path d="M1118.84 627.59L1124.24 636.79L1113.44 636.79Z"/><path d="M1124.05 628.52L1129.45 637.72L1118.65 637.72Z"/><path d="M1128.94 630.55L1134.34 639.75L1123.54 639.75Z"/><path d="M1133.39 633.42L1138.79 642.62L1127.99 642.62Z"/><path d="M1137.35 636.93L1142.75 646.13L1131.95 646.13Z"/><path d="M1140.89 640.87L1146.29 650.07L1135.49 650.07Z"/><path d="M1144.05 645.12L1149.45 654.32L1138.65 654.32Z"/><path d="M1146.91 649.59L1152.31 658.79L1141.51 658.79Z"/><path d="M1149.44 654.24L1154.84 663.44L1144.04 663.44Z"/><path d="M1151.79 658.99L1157.19 668.19L1146.39 668.19Z"/><path d="M1154.03 663.8L1159.43 673L1148.63 673Z"/><path d="M1156.11 668.67L1161.51 677.87L1150.71 677.87Z"/><path d="M1158 673.62L1163.4 682.82L1152.6 682.82Z"/><path d="M1159.69 678.64L1165.09 687.84L1154.29 687.84Z"/><path d="M1161.15 683.74L1166.55 692.94L1155.75 692.94Z"/><path d="M1162.51 688.86L1167.91 698.06L1157.11 698.06Z"/><path d="M1163.76 694.01L1169.16 703.21L1158.36 703.21Z"/><path d="M1165.38 699.06L1170.78 708.26L1159.98 708.26Z"/><path d="M1166 699.4L1171.4 708.6L1160.6 708.6Z"/><path d="M1168.69 694.04L1174.09 703.24L1163.29 703.24Z"/><path d="M1171.24 688.61L1176.64 697.81L1165.84 697.81Z"/><path d="M1173.78 683.17L1179.18 692.37L1168.38 692.37Z"/><path d="M1176.34 677.74L1181.74 686.94L1170.94 686.94Z"/><path d="M1178.88 672.31L1184.28 681.51L1173.48 681.51Z"/><path d="M1181.48 666.9L1186.88 676.1L1176.08 676.1Z"/><path d="M1184.18 661.54L1189.58 670.74L1178.78 670.74Z"/><path d="M1186.85 656.17L1192.25 665.37L1181.45 665.37Z"/><path d="M1189.55 650.81L1194.95 660.01L1184.15 660.01Z"/><path d="M1192.33 645.49L1197.73 654.69L1186.93 654.69Z"/><path d="M1195.21 640.23L1200.61 649.43L1189.81 649.43Z"/><path d="M1198.21 635.03L1203.61 644.23L1192.81 644.23Z"/></g>
<g fill="none" stroke="#3d3d3d" stroke-width="2.6" stroke-linejoin="round"><path d="M1548.8 92.4L1553.8 100.6L1543.8 100.6Z"/><rect x="1543.6" y="142.3" width="9.8" height="9.8"/></g>
<text x="1625" y="104.8" font-family="'Liberation Sans', Arial, sans-serif" font-size="24.5" font-weight="bold" fill="#111">Anode (Z<tspan font-size="14.5" dy="6">A</tspan><tspan dy="-6">)</tspan></text>
<text x="1625" y="154.7" font-family="'Liberation Sans', Arial, sans-serif" font-size="24.5" font-weight="bold" fill="#111">Cathode (Z<tspan font-size="14.5" dy="6">C</tspan><tspan dy="-6">)</tspan></text>
<line x1="1315.6" y1="139.5" x2="1327.5" y2="201.7" stroke="#111" stroke-width="3.3"/>
<text x="1270.9" y="125.5" text-anchor="start" font-family="'Liberation Sans', Arial, sans-serif" font-size="24.5" font-weight="bold" fill="#111">1168 Hz</text>
<line x1="1159.2" y1="596.7" x2="1118.3" y2="630" stroke="#111" stroke-width="3.3"/>
<text x="1119.2" y="583.3" text-anchor="start" font-family="'Liberation Sans', Arial, sans-serif" font-size="24.5" font-weight="bold" fill="#111">143.7 Hz</text>
<line x1="1252.5" y1="689.2" x2="1168.3" y2="706.7" stroke="#111" stroke-width="3.3"/>
<text x="1263.3" y="696.7" text-anchor="start" font-family="'Liberation Sans', Arial, sans-serif" font-size="24.5" font-weight="bold" fill="#111">0.85 Hz</text>
<line x1="1602" y1="660.7" x2="1700" y2="676" stroke="#111" stroke-width="3.3"/>
<text x="1558" y="646.7" text-anchor="start" font-family="'Liberation Sans', Arial, sans-serif" font-size="24.5" font-weight="bold" fill="#111">1.72 Hz</text>
<g fill="none" stroke="#606060" stroke-width="2.3"><circle cx="104.2" cy="1566" r="9.5"/><circle cx="104.5" cy="1562" r="9.5"/><circle cx="104.8" cy="1558" r="9.5"/><circle cx="105.2" cy="1553" r="9.5"/><circle cx="105.6" cy="1548" r="9.5"/><circle cx="106.4" cy="1543" r="9.5"/><circle cx="107.7" cy="1537.8" r="9.5"/><circle cx="108.9" cy="1528.4" r="9.5"/><circle cx="110.6" cy="1517.9" r="9.5"/><circle cx="112.4" cy="1506.8" r="9.5"/><circle cx="114.7" cy="1493.4" r="9.5"/><circle cx="117.4" cy="1478.5" r="9.5"/><circle cx="120.6" cy="1461.9" r="9.5"/><circle cx="125" cy="1443.2" r="9.5"/><circle cx="129.9" cy="1422.2" r="9.5"/><circle cx="136.4" cy="1400.8" r="9.5"/><circle cx="143.9" cy="1376" r="9.5"/><circle cx="153.9" cy="1351.5" r="9.5"/><circle cx="165" cy="1327" r="9.5"/><circle cx="177.6" cy="1303.4" r="9.5"/><circle cx="192.1" cy="1282.9" r="9.5"/><circle cx="208.6" cy="1264" r="9.5"/><circle cx="226.1" cy="1250" r="9.5"/><circle cx="243.6" cy="1241.2" r="9.5"/><circle cx="261.6" cy="1236" r="9.5"/><circle cx="279.1" cy="1235.1" r="9.5"/><circle cx="296.7" cy="1237.7" r="9.5"/><circle cx="313.3" cy="1243" r="9.5"/><circle cx="329.1" cy="1248.2" r="9.5"/><circle cx="343.9" cy="1254.3" r="9.5"/><circle cx="357.9" cy="1259.6" r="9.5"/><circle cx="371.5" cy="1262" r="9.5"/><circle cx="384.8" cy="1263.5" r="9.5"/><circle cx="397.1" cy="1261.8" r="9.5"/><circle cx="410.3" cy="1258.3" r="9.5"/><circle cx="422.8" cy="1252.1" r="9.5"/><circle cx="436" cy="1244.4" r="9.5"/><circle cx="449.9" cy="1232.6" r="9.5"/><circle cx="464.4" cy="1217.4" r="9.5"/><circle cx="479.7" cy="1200.7" r="9.5"/><circle cx="497.5" cy="1182.6" r="9.5"/><circle cx="515.6" cy="1164.6" r="9.5"/><circle cx="535" cy="1145.6" r="9.5"/><circle cx="555.5" cy="1127.6" r="9.5"/><circle cx="578.1" cy="1113.2" r="9.5"/><circle cx="600.7" cy="1099.7" r="9.5"/><circle cx="624.7" cy="1082.5" r="9.5"/><circle cx="648.2" cy="1077.2" r="9.5"/><circle cx="673.7" cy="1064.5" r="9.5"/><circle cx="696.7" cy="1060.3" r="9.5"/><circle cx="721.7" cy="1059.2" r="9.5"/><circle cx="745" cy="1051" r="9.5"/><circle cx="767.2" cy="1046.8" r="9.5"/><circle cx="790" cy="1043.5" r="9.5"/><circle cx="813.2" cy="1031.5" r="9.5"/></g>
<g fill="none" stroke="#111" stroke-width="2.6"><path d="M99.5 1563.3L108.9 1572.7M99.5 1572.7L108.9 1563.3"/><path d="M99.8 1559.3L109.2 1568.7M99.8 1568.7L109.2 1559.3"/><path d="M100.1 1555.3L109.5 1564.7M100.1 1564.7L109.5 1555.3"/><path d="M100.5 1550.3L109.9 1559.7M100.5 1559.7L109.9 1550.3"/><path d="M100.9 1545.3L110.3 1554.7M100.9 1554.7L110.3 1545.3"/><path d="M101.7 1540.3L111.1 1549.7M101.7 1549.7L111.1 1540.3"/><path d="M103 1535.1L112.4 1544.5M103 1544.5L112.4 1535.1"/><path d="M104.2 1525.7L113.6 1535.1M104.2 1535.1L113.6 1525.7"/><path d="M105.9 1515.2L115.3 1524.6M105.9 1524.6L115.3 1515.2"/><path d="M107.7 1504.1L117.1 1513.5M107.7 1513.5L117.1 1504.1"/><path d="M110 1490.7L119.4 1500.1M110 1500.1L119.4 1490.7"/><path d="M112.7 1475.8L122.1 1485.2M112.7 1485.2L122.1 1475.8"/><path d="M115.9 1459.2L125.3 1468.6M115.9 1468.6L125.3 1459.2"/><path d="M120.3 1440.5L129.7 1449.9M120.3 1449.9L129.7 1440.5"/><path d="M125.2 1419.5L134.6 1428.9M125.2 1428.9L134.6 1419.5"/><path d="M131.7 1398.1L141.1 1407.5M131.7 1407.5L141.1 1398.1"/><path d="M139.2 1373.3L148.6 1382.7M139.2 1382.7L148.6 1373.3"/><path d="M149.2 1348.8L158.6 1358.2M149.2 1358.2L158.6 1348.8"/><path d="M160.3 1324.3L169.7 1333.7M160.3 1333.7L169.7 1324.3"/><path d="M172.9 1300.7L182.3 1310.1M172.9 1310.1L182.3 1300.7"/><path d="M187.4 1280.2L196.8 1289.6M187.4 1289.6L196.8 1280.2"/><path d="M203.9 1261.3L213.3 1270.7M203.9 1270.7L213.3 1261.3"/><path d="M221.4 1247.3L230.8 1256.7M221.4 1256.7L230.8 1247.3"/><path d="M238.9 1238.5L248.3 1247.9M238.9 1247.9L248.3 1238.5"/><path d="M256.9 1233.3L266.3 1242.7M256.9 1242.7L266.3 1233.3"/><path d="M274.4 1232.4L283.8 1241.8M274.4 1241.8L283.8 1232.4"/><path d="M292 1235L301.4 1244.4M292 1244.4L301.4 1235"/><path d="M308.6 1240.3L318 1249.7M308.6 1249.7L318 1240.3"/><path d="M324.4 1245.5L333.8 1254.9M324.4 1254.9L333.8 1245.5"/><path d="M339.2 1251.6L348.6 1261M339.2 1261L348.6 1251.6"/><path d="M353.2 1256.9L362.6 1266.3M353.2 1266.3L362.6 1256.9"/><path d="M366.8 1259.3L376.2 1268.7M366.8 1268.7L376.2 1259.3"/><path d="M380.1 1260.8L389.5 1270.2M380.1 1270.2L389.5 1260.8"/><path d="M392.4 1259.1L401.8 1268.5M392.4 1268.5L401.8 1259.1"/><path d="M405.6 1255.6L415 1265M405.6 1265L415 1255.6"/><path d="M418.1 1249.4L427.5 1258.8M418.1 1258.8L427.5 1249.4"/><path d="M431.3 1241.7L440.7 1251.1M431.3 1251.1L440.7 1241.7"/><path d="M445.2 1229.9L454.6 1239.3M445.2 1239.3L454.6 1229.9"/><path d="M459.7 1214.7L469.1 1224.1M459.7 1224.1L469.1 1214.7"/><path d="M475 1200.5L484.4 1209.9M475 1209.9L484.4 1200.5"/><path d="M492.8 1182.4L502.2 1191.8M492.8 1191.8L502.2 1182.4"/><path d="M510.9 1164.4L520.3 1173.8M510.9 1173.8L520.3 1164.4"/><path d="M530.3 1145.4L539.7 1154.8M530.3 1154.8L539.7 1145.4"/><path d="M550.8 1127.4L560.2 1136.8M550.8 1136.8L560.2 1127.4"/><path d="M573.4 1113L582.8 1122.4M573.4 1122.4L582.8 1113"/><path d="M595 1097.3L604.4 1106.7M595 1106.7L604.4 1097.3"/><path d="M619 1085L628.4 1094.4M619 1094.4L628.4 1085"/><path d="M642.5 1076.3L651.9 1085.7M642.5 1085.7L651.9 1076.3"/><path d="M668 1068L677.4 1077.4M668 1077.4L677.4 1068"/><path d="M691 1062.8L700.4 1072.2M691 1072.2L700.4 1062.8"/><path d="M716 1059.8L725.4 1069.2M716 1069.2L725.4 1059.8"/><path d="M739.3 1055.3L748.7 1064.7M739.3 1064.7L748.7 1055.3"/><path d="M761.5 1050.8L770.9 1060.2M761.5 1060.2L770.9 1050.8"/><path d="M784.3 1046.3L793.7 1055.7M784.3 1055.7L793.7 1046.3"/><path d="M807.5 1034.6L816.9 1044M807.5 1044L816.9 1034.6"/></g>
<g fill="none" stroke="#707070" stroke-width="2.8"><circle cx="630.4" cy="1477.5" r="8.8"/></g>
<g fill="none" stroke="#111" stroke-width="3"><path d="M626 1524.5L636 1534.5M626 1534.5L636 1524.5"/></g>
<text x="707.3" y="1485" font-family="'Liberation Sans', Arial, sans-serif" font-size="24.5" font-weight="bold" fill="#111">Full Cell</text>
<text x="707.3" y="1534.7" font-family="'Liberation Sans', Arial, sans-serif" font-size="24.5" font-weight="bold" fill="#111">Z<tspan font-size="14.5" dy="6">A</tspan><tspan dy="-6"> + Z</tspan><tspan font-size="14.5" dy="6">C</tspan></text>
<line x1="271.3" y1="1172" x2="262.5" y2="1228" stroke="#111" stroke-width="3.3"/>
<text x="230.1" y="1157.1" text-anchor="start" font-family="'Liberation Sans', Arial, sans-serif" font-size="24.5" font-weight="bold" fill="#111">732.4 Hz</text>
<line x1="517.2" y1="1052.3" x2="549.9" y2="1120.1" stroke="#111" stroke-width="3.3"/>
<text x="475.5" y="1038" text-anchor="start" font-family="'Liberation Sans', Arial, sans-serif" font-size="24.5" font-weight="bold" fill="#111">11.9 Hz</text>
<g fill="none" stroke="#606060" stroke-width="2.3"><circle cx="1071.5" cy="1566.5" r="9.5"/><circle cx="1072" cy="1563.9" r="9.5"/><circle cx="1072.5" cy="1559" r="9.5"/><circle cx="1073" cy="1554.6" r="9.5"/><circle cx="1073.9" cy="1543.4" r="9.5"/><circle cx="1074.8" cy="1532.1" r="9.5"/><circle cx="1076.3" cy="1519.1" r="9.5"/><circle cx="1077.6" cy="1505" r="9.5"/><circle cx="1080.1" cy="1490.1" r="9.5"/><circle cx="1082.3" cy="1473.3" r="9.5"/><circle cx="1085.7" cy="1453.7" r="9.5"/><circle cx="1090.2" cy="1430.3" r="9.5"/><circle cx="1095" cy="1406" r="9.5"/><circle cx="1101.4" cy="1377.6" r="9.5"/><circle cx="1110.3" cy="1345.7" r="9.5"/><circle cx="1120.6" cy="1310.7" r="9.5"/><circle cx="1132.8" cy="1273.8" r="9.5"/><circle cx="1148" cy="1236.3" r="9.5"/><circle cx="1165.4" cy="1198.9" r="9.5"/><circle cx="1186" cy="1162.4" r="9.5"/><circle cx="1208.3" cy="1130.1" r="9.5"/><circle cx="1233.8" cy="1102.5" r="9.5"/><circle cx="1260" cy="1078.6" r="9.5"/><circle cx="1288.2" cy="1061.6" r="9.5"/><circle cx="1316.8" cy="1051.4" r="9.5"/><circle cx="1345.8" cy="1046.3" r="9.5"/><circle cx="1375.5" cy="1046.7" r="9.5"/><circle cx="1404.5" cy="1053.4" r="9.5"/><circle cx="1432.3" cy="1063.7" r="9.5"/><circle cx="1458.2" cy="1079" r="9.5"/><circle cx="1483.8" cy="1097.4" r="9.5"/><circle cx="1507.7" cy="1118.3" r="9.5"/><circle cx="1530.2" cy="1140.8" r="9.5"/><circle cx="1550.6" cy="1163.9" r="9.5"/><circle cx="1570.7" cy="1188.4" r="9.5"/><circle cx="1588.6" cy="1212.9" r="9.5"/><circle cx="1605" cy="1237.4" r="9.5"/><circle cx="1620.3" cy="1262.6" r="9.5"/><circle cx="1635" cy="1287.9" r="9.5"/><circle cx="1647.9" cy="1314.1" r="9.5"/><circle cx="1658.9" cy="1338.65" r="9.5"/><circle cx="1667.7" cy="1361.6" r="9.5"/><circle cx="1676.4" cy="1383.7" r="9.5"/><circle cx="1683.8" cy="1405.2" r="9.5"/><circle cx="1689.2" cy="1423.3" r="9.5"/><circle cx="1694.5" cy="1440.1" r="9.5"/><circle cx="1699.2" cy="1454.9" r="9.5"/><circle cx="1703.3" cy="1468.3" r="9.5"/><circle cx="1707.3" cy="1480.4" r="9.5"/><circle cx="1711.3" cy="1491.1" r="9.5"/><circle cx="1714" cy="1496" r="9.5"/><circle cx="1716.7" cy="1500.5" r="9.5"/><circle cx="1719.5" cy="1504.5" r="9.5"/><circle cx="1722.7" cy="1507.3" r="9.5"/><circle cx="1726.5" cy="1505.5" r="9.5"/><circle cx="1730.1" cy="1501.9" r="9.5"/><circle cx="1732.5" cy="1497" r="9.5"/><circle cx="1734.8" cy="1491.1" r="9.5"/><circle cx="1738.2" cy="1477.7" r="9.5"/><circle cx="1741.5" cy="1464.3" r="9.5"/><circle cx="1745.6" cy="1450.9" r="9.5"/><circle cx="1750.9" cy="1436.1" r="9.5"/><circle cx="1755.6" cy="1422.7" r="9.5"/><circle cx="1761" cy="1405.2" r="9.5"/><circle cx="1765.7" cy="1381" r="9.5"/><circle cx="1773.8" cy="1355.5" r="9.5"/></g>
<g fill="none" stroke="#111" stroke-width="2.7"><path d="M1066.8 1562.8L1076.2 1572.2M1066.8 1572.2L1076.2 1562.8"/><path d="M1067.3 1560.2L1076.7 1569.6M1067.3 1569.6L1076.7 1560.2"/><path d="M1067.8 1555.3L1077.2 1564.7M1067.8 1564.7L1077.2 1555.3"/><path d="M1068.3 1550.9L1077.7 1560.3M1068.3 1560.3L1077.7 1550.9"/><path d="M1069.2 1539.7L1078.6 1549.1M1069.2 1549.1L1078.6 1539.7"/><path d="M1070.1 1528.4L1079.5 1537.8M1070.1 1537.8L1079.5 1528.4"/><path d="M1071.6 1515.4L1081 1524.8M1071.6 1524.8L1081 1515.4"/><path d="M1072.9 1501.3L1082.3 1510.7M1072.9 1510.7L1082.3 1501.3"/><path d="M1075.4 1486.4L1084.8 1495.8M1075.4 1495.8L1084.8 1486.4"/><path d="M1077.6 1469.6L1087 1479M1077.6 1479L1087 1469.6"/><path d="M1081 1450L1090.4 1459.4M1081 1459.4L1090.4 1450"/><path d="M1085.5 1426.6L1094.9 1436M1085.5 1436L1094.9 1426.6"/><path d="M1090.3 1402.3L1099.7 1411.7M1090.3 1411.7L1099.7 1402.3"/><path d="M1096.7 1373.9L1106.1 1383.3M1096.7 1383.3L1106.1 1373.9"/><path d="M1105.6 1342L1115 1351.4M1105.6 1351.4L1115 1342"/><path d="M1115.9 1307L1125.3 1316.4M1115.9 1316.4L1125.3 1307"/><path d="M1128.1 1270.1L1137.5 1279.5M1128.1 1279.5L1137.5 1270.1"/><path d="M1143.3 1232.6L1152.7 1242M1143.3 1242L1152.7 1232.6"/><path d="M1160.7 1195.2L1170.1 1204.6M1160.7 1204.6L1170.1 1195.2"/><path d="M1181.3 1158.7L1190.7 1168.1M1181.3 1168.1L1190.7 1158.7"/><path d="M1203.6 1126.4L1213 1135.8M1203.6 1135.8L1213 1126.4"/><path d="M1229.1 1098.8L1238.5 1108.2M1229.1 1108.2L1238.5 1098.8"/><path d="M1255.3 1074.9L1264.7 1084.3M1255.3 1084.3L1264.7 1074.9"/><path d="M1283.5 1057.9L1292.9 1067.3M1283.5 1067.3L1292.9 1057.9"/><path d="M1312.1 1047.7L1321.5 1057.1M1312.1 1057.1L1321.5 1047.7"/><path d="M1341.1 1042.6L1350.5 1052M1341.1 1052L1350.5 1042.6"/><path d="M1370.8 1043L1380.2 1052.4M1370.8 1052.4L1380.2 1043"/><path d="M1399.8 1049.7L1409.2 1059.1M1399.8 1059.1L1409.2 1049.7"/><path d="M1427.6 1060L1437 1069.4M1427.6 1069.4L1437 1060"/><path d="M1453.5 1075.3L1462.9 1084.7M1453.5 1084.7L1462.9 1075.3"/><path d="M1479.1 1093.7L1488.5 1103.1M1479.1 1103.1L1488.5 1093.7"/><path d="M1503 1114.6L1512.4 1124M1503 1124L1512.4 1114.6"/><path d="M1525.5 1137.1L1534.9 1146.5M1525.5 1146.5L1534.9 1137.1"/><path d="M1545.9 1160.2L1555.3 1169.6M1545.9 1169.6L1555.3 1160.2"/><path d="M1566 1184.7L1575.4 1194.1M1566 1194.1L1575.4 1184.7"/><path d="M1583.9 1209.2L1593.3 1218.6M1583.9 1218.6L1593.3 1209.2"/><path d="M1600.3 1233.7L1609.7 1243.1M1600.3 1243.1L1609.7 1233.7"/><path d="M1615.6 1258.9L1625 1268.3M1615.6 1268.3L1625 1258.9"/><path d="M1630.3 1284.2L1639.7 1293.6M1630.3 1293.6L1639.7 1284.2"/><path d="M1643.2 1310.4L1652.6 1319.8M1643.2 1319.8L1652.6 1310.4"/><path d="M1656.7 1334.95L1666.1 1344.35M1656.7 1344.35L1666.1 1334.95"/><path d="M1665.5 1357.9L1674.9 1367.3M1665.5 1367.3L1674.9 1357.9"/><path d="M1674.2 1380L1683.6 1389.4M1674.2 1389.4L1683.6 1380"/><path d="M1681.6 1401.5L1691 1410.9M1681.6 1410.9L1691 1401.5"/><path d="M1687 1419.6L1696.4 1429M1687 1429L1696.4 1419.6"/><path d="M1692.3 1436.4L1701.7 1445.8M1692.3 1445.8L1701.7 1436.4"/><path d="M1697 1451.2L1706.4 1460.6M1697 1460.6L1706.4 1451.2"/><path d="M1701.1 1464.6L1710.5 1474M1701.1 1474L1710.5 1464.6"/><path d="M1705.1 1476.7L1714.5 1486.1M1705.1 1486.1L1714.5 1476.7"/><path d="M1709.1 1487.4L1718.5 1496.8M1709.1 1496.8L1718.5 1487.4"/><path d="M1711.8 1492.3L1721.2 1501.7M1711.8 1501.7L1721.2 1492.3"/><path d="M1714.5 1496.8L1723.9 1506.2M1714.5 1506.2L1723.9 1496.8"/><path d="M1717.3 1500.8L1726.7 1510.2M1717.3 1510.2L1726.7 1500.8"/><path d="M1720.5 1503.6L1729.9 1513M1720.5 1513L1729.9 1503.6"/><path d="M1719.8 1501.3L1729.2 1510.7M1719.8 1510.7L1729.2 1501.3"/><path d="M1723.3 1498.3L1732.7 1507.7M1723.3 1507.7L1732.7 1498.3"/><path d="M1726.8 1495.3L1736.2 1504.7M1726.8 1504.7L1736.2 1495.3"/><path d="M1730.8 1491.8L1740.2 1501.2M1730.8 1501.2L1740.2 1491.8"/><path d="M1735.5 1483.8L1744.9 1493.2M1735.5 1493.2L1744.9 1483.8"/><path d="M1738.8 1474.4L1748.2 1483.8M1738.8 1483.8L1748.2 1474.4"/><path d="M1742.9 1465L1752.3 1474.4M1742.9 1474.4L1752.3 1465"/><path d="M1746.2 1452.9L1755.6 1462.3M1746.2 1462.3L1755.6 1452.9"/><path d="M1750.9 1439.4L1760.3 1448.8M1750.9 1448.8L1760.3 1439.4"/><path d="M1756.3 1424.7L1765.7 1434.1M1756.3 1434.1L1765.7 1424.7"/><path d="M1761.7 1405.9L1771.1 1415.3M1761.7 1415.3L1771.1 1405.9"/><path d="M1766.4 1386.4L1775.8 1395.8M1766.4 1395.8L1775.8 1386.4"/><path d="M1773.8 1364.9L1783.2 1374.3M1773.8 1374.3L1783.2 1364.9"/></g>
<g fill="none" stroke="#707070" stroke-width="2.8"><circle cx="1593.6" cy="951.1" r="8.8"/></g>
<g fill="none" stroke="#111" stroke-width="3"><path d="M1588.6 998.5L1598.6 1008.5M1588.6 1008.5L1598.6 998.5"/></g>
<text x="1670.1" y="958.3" font-family="'Liberation Sans', Arial, sans-serif" font-size="24.5" font-weight="bold" fill="#111">Full Cell</text>
<text x="1670.1" y="1007.4" font-family="'Liberation Sans', Arial, sans-serif" font-size="24.5" font-weight="bold" fill="#111">Z<tspan font-size="14.5" dy="6">A</tspan><tspan dy="-6"> + Z</tspan><tspan font-size="14.5" dy="6">C</tspan></text>
<line x1="1298.8" y1="999.3" x2="1315.2" y2="1045.3" stroke="#111" stroke-width="3.3"/>
<text x="1252.8" y="983.9" text-anchor="start" font-family="'Liberation Sans', Arial, sans-serif" font-size="24.5" font-weight="bold" fill="#111">1168 Hz</text>
<line x1="1639.4" y1="1506.7" x2="1712" y2="1508" stroke="#111" stroke-width="3.3"/>
<text x="1541.7" y="1514.4" text-anchor="start" font-family="'Liberation Sans', Arial, sans-serif" font-size="24.5" font-weight="bold" fill="#111">0.33 Hz</text>
</svg>
</div></body></html>
